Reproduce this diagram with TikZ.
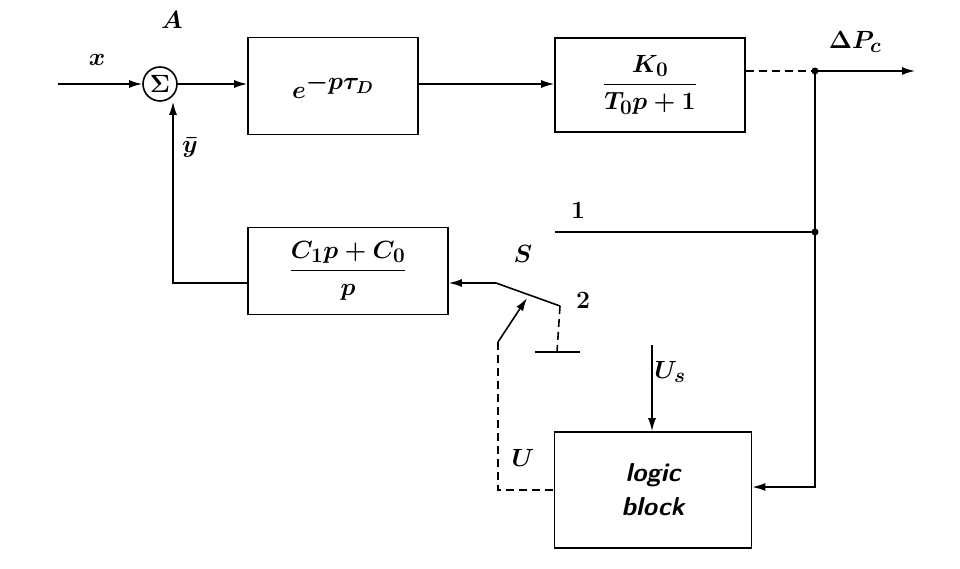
\documentclass[tikz,border=0pt]{standalone}
\usepackage{amsmath,bm}
\usetikzlibrary{arrows.meta}
\begin{document}
\begin{tikzpicture}[x=1pt,y=-1pt,line width=1.6pt,
 lbl/.style={font=\fontsize{30}{34}\selectfont},
 bx/.style={draw,font=\fontsize{28}{32}\selectfont},
 dsh/.style={dash pattern=on 8pt off 5pt},
 arr/.style={-{Latex[length=13pt,width=8pt]}}]
\useasboundingbox (0,0) rectangle (960,569);
\node[draw,circle,minimum size=34pt,inner sep=0,font=\fontsize{24}{26}\selectfont] (s) at (160,84) {$\bm\Sigma$};
\node[bx,minimum width=170pt,minimum height=97pt,font=\fontsize{34}{38}\selectfont] (b1) at (333,86) {$\bm{e^{-p\tau_D}}$};
\node[bx,minimum width=190pt,minimum height=94pt] (b2) at (650,85) {$\bm{\dfrac{K_0}{T_0 p+1}}$};
\node[bx,minimum width=200pt,minimum height=87pt] (b3) at (348,271) {$\bm{\dfrac{C_1 p+C_0}{p}}$};
\node[draw,minimum width=197pt,minimum height=116pt,font=\fontsize{26}{34}\selectfont\bfseries\itshape\sffamily,align=center] (lb) at (653,490) {logic\\block};
\coordinate (xin) at (58,84);
\coordinate (out) at (915,71);
\coordinate (d1) at (815,71);
\coordinate (d2) at (815,232);
\coordinate (l1) at (555,232);
\coordinate (sw0) at (496,283);
\coordinate (sw1) at (560,306);
\coordinate (g) at (557,352);
\coordinate (ap) at (527,298);
\coordinate (ab) at (498,342);
\coordinate (fb) at (173,283);
\coordinate (us) at (652,345);
\draw[arr] (xin) -- (s);
\draw[arr] (s) -- (s-|b1.west);
\draw[arr] (b1.east|-s) -- (b2.west|-s);
\draw[dsh] (b2.east|-d1) -- (d1);
\draw[arr] (d1) -- (out);
\fill (d1) circle (3.5pt) (d2) circle (3.5pt);
\draw[arr] (d1) -- (815,487) -- (lb.east|-{(0,487)});
\draw (l1) -- (d2);
\draw[arr] (sw0) -- (b3.east|-sw0);
\draw (sw0) -- (sw1);
\draw[dsh] (sw1) -- (g);
\draw (535,352) -- (580,352);
\draw[arr] (ab) -- (ap);
\draw[dsh] (ab) -- (498,490) -- (lb.west|-{(0,490)});
\draw[arr] (b3.west|-fb) -- (fb) -- (s.south-|fb);
\draw[arr] (us) -- (lb.north-|us);
\node[lbl] at (97,60) {$\bm x$};
\node[lbl] at (172,20) {$\bm A$};
\node[lbl,inner sep=0] at (190,148) {$\bm{\bar y}$};
\node[lbl] at (855,42) {$\bm{\Delta P_c}$};
\node[lbl] at (578,210) {$\bm 1$};
\node[lbl] at (523,254) {$\bm S$};
\node[lbl] at (583,300) {$\bm 2$};
\node[lbl] at (670,372) {$\bm{U_s}$};
\node[lbl] at (523,458) {$\bm U$};
\end{tikzpicture}
\end{document}
